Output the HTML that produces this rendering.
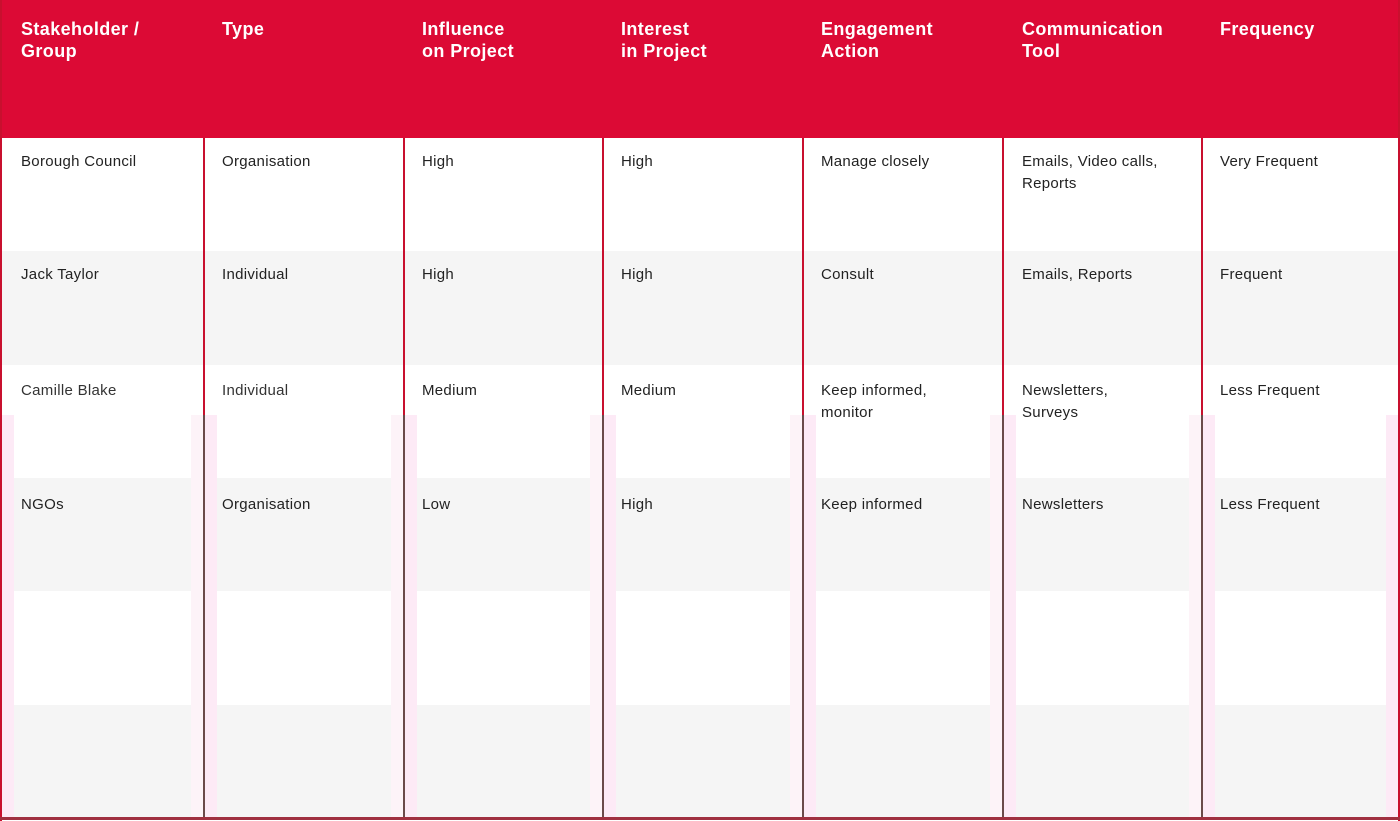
<!DOCTYPE html><html><head><style>
body{margin:0;width:1400px;height:821px;background:#fff;position:relative;overflow:hidden;font-family:"Liberation Sans",sans-serif}
.a{position:absolute}
.h{color:#fff;font-weight:bold;font-size:18px;line-height:22px;top:18px;letter-spacing:0.4px}
.t{color:#222;font-size:15px;line-height:22px;letter-spacing:0.3px}
</style></head><body>
<div class="a" style="left:0;top:0;width:1400px;height:138px;background:#dc0a35"></div>
<div class="a" style="left:0;top:251px;width:1400px;height:114px;background:#f5f5f5"></div>
<div class="a" style="left:0;top:478px;width:1400px;height:113px;background:#f5f5f5"></div>
<div class="a" style="left:0;top:705px;width:1400px;height:114px;background:#f5f5f5"></div>
<div id="pk"></div>
<div id="ln"></div>
<div class="a" style="left:0;top:0;width:2px;height:821px;background:#c8102e"></div>
<div class="a" style="left:1398px;top:0;width:2px;height:821px;background:#c8102e"></div>
<div class="a" style="left:0;top:817px;width:1400px;height:3px;background:#a03040"></div>
<script>
var xs=[203,403,602,802,1002,1201];var s='';
[2,203,403,602,802,1002,1201].forEach(function(x,i){s+='<div class="a" style="left:'+(x+(i?2:0))+'px;top:415px;width:12px;height:402px;background:#fdeaf6"></div>';if(i)s+='<div class="a" style="left:'+(x-12)+'px;top:415px;width:12px;height:402px;background:#fdf3f8"></div>';});
s+='<div class="a" style="left:1386px;top:415px;width:12px;height:402px;background:#fdeaf6"></div>';
document.getElementById('pk').innerHTML=s;s='';
xs.forEach(function(x){s+='<div class="a" style="left:'+x+'px;top:138px;width:2px;height:277px;background:#c8102e"></div><div class="a" style="left:'+x+'px;top:415px;width:2px;height:403px;background:#6b4a4a"></div>';});
document.getElementById('ln').innerHTML=s;
</script>
<div class="a h" style="left:21px">Stakeholder /<br>Group</div>
<div class="a h" style="left:222px">Type</div>
<div class="a h" style="left:422px">Influence<br>on Project</div>
<div class="a h" style="left:621px">Interest<br>in Project</div>
<div class="a h" style="left:821px">Engagement<br>Action</div>
<div class="a h" style="left:1022px">Communication<br>Tool</div>
<div class="a h" style="left:1220px">Frequency</div>

<div class="a t" style="left:21px;top:151px">Borough Council</div>
<div class="a t" style="left:222px;top:151px">Organisation</div>
<div class="a t" style="left:422px;top:151px">High</div>
<div class="a t" style="left:621px;top:151px">High</div>
<div class="a t" style="left:821px;top:151px">Manage closely</div>
<div class="a t" style="left:1022px;top:151px">Emails, Video calls,<br>Reports</div>
<div class="a t" style="left:1220px;top:151px">Very Frequent</div>

<div class="a t" style="left:21px;top:264px">Jack Taylor</div>
<div class="a t" style="left:222px;top:264px">Individual</div>
<div class="a t" style="left:422px;top:264px">High</div>
<div class="a t" style="left:621px;top:264px">High</div>
<div class="a t" style="left:821px;top:264px">Consult</div>
<div class="a t" style="left:1022px;top:264px">Emails, Reports</div>
<div class="a t" style="left:1220px;top:264px">Frequent</div>

<div class="a t" style="left:21px;top:380px;color:#333">Camille Blake</div>
<div class="a t" style="left:222px;top:380px;color:#333">Individual</div>
<div class="a t" style="left:422px;top:380px">Medium</div>
<div class="a t" style="left:621px;top:380px">Medium</div>
<div class="a t" style="left:821px;top:380px">Keep informed,<br>monitor</div>
<div class="a t" style="left:1022px;top:380px">Newsletters,<br>Surveys</div>
<div class="a t" style="left:1220px;top:380px">Less Frequent</div>

<div class="a t" style="left:21px;top:494px">NGOs</div>
<div class="a t" style="left:222px;top:494px">Organisation</div>
<div class="a t" style="left:422px;top:494px">Low</div>
<div class="a t" style="left:621px;top:494px">High</div>
<div class="a t" style="left:821px;top:494px">Keep informed</div>
<div class="a t" style="left:1022px;top:494px">Newsletters</div>
<div class="a t" style="left:1220px;top:494px">Less Frequent</div>
</body></html>
